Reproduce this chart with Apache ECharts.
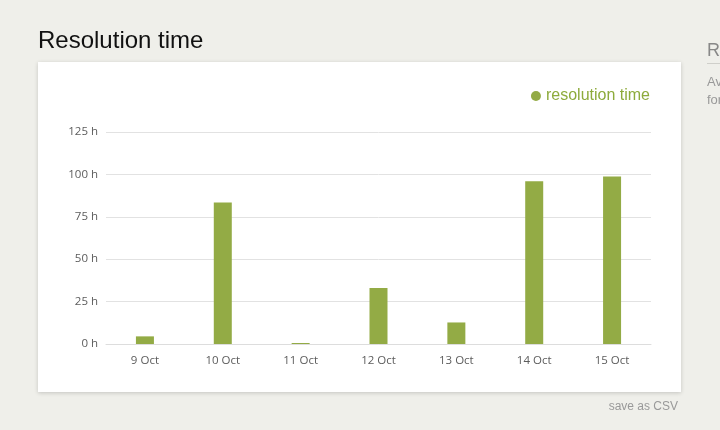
<!DOCTYPE html>
<html>
<head>
<meta charset="utf-8">
<script src="https://cdn.jsdelivr.net/npm/echarts@6/dist/echarts.min.js"></script>
<style>
html, body { margin: 0; padding: 0; background: #efefea; }
#chart { width: 720px; height: 430px; }
</style>
</head>
<body>
<div id="chart"></div>
<script>
var days = ['9 Oct', '10 Oct', '11 Oct', '12 Oct', '13 Oct', '14 Oct', '15 Oct'];
var hours = [4.5, 83.5, 0.6, 33, 12.7, 95.9, 98.8];
var seriesName = 'resolution time';

var green = '#93ab45';
var labelFont = '"Open Sans", sans-serif';

var myChart = echarts.init(document.getElementById('chart'));

var option = {
    backgroundColor: '#efefea',
    animation: false,
    graphic: [
        {
            // white panel behind the plot
            type: 'rect',
            z: -10,
            shape: { x: 38, y: 62, width: 643, height: 330 },
            style: {
                fill: '#ffffff',
                shadowBlur: 4,
                shadowColor: 'rgba(0,0,0,0.18)',
                shadowOffsetY: 1
            }
        },
        {
            type: 'text',
            x: 38, y: 41,
            style: {
                text: 'Resolution time',
                font: '24px "Liberation Sans", Arial, sans-serif',
                fill: '#111',
                verticalAlign: 'middle'
            }
        },
        {
            type: 'text',
            x: 707, y: 51,
            style: {
                text: 'Recent',
                font: '18px "Liberation Sans", Arial, sans-serif',
                fill: '#888',
                verticalAlign: 'middle'
            }
        },
        {
            type: 'line',
            shape: { x1: 707, y1: 63.5, x2: 720, y2: 63.5 },
            style: { stroke: '#cfcfca', lineWidth: 1 }
        },
        {
            type: 'text',
            x: 707, y: 82,
            style: {
                text: 'Average',
                font: '13px "Liberation Sans", Arial, sans-serif',
                fill: '#999',
                verticalAlign: 'middle'
            }
        },
        {
            type: 'text',
            x: 707, y: 100,
            style: {
                text: 'for',
                font: '13px "Liberation Sans", Arial, sans-serif',
                fill: '#999',
                verticalAlign: 'middle'
            }
        },
        {
            type: 'text',
            x: 678, y: 407,
            style: {
                text: 'save as CSV',
                font: '12px "Liberation Sans", Arial, sans-serif',
                fill: '#999',
                align: 'right',
                verticalAlign: 'middle'
            }
        }
    ],
    legend: {
        data: [seriesName],
        right: 65,
        top: 83,
        icon: 'circle',
        itemWidth: 10,
        itemHeight: 10,
        itemGap: 6,
        textStyle: {
            color: '#8dab3c',
            fontSize: 16,
            fontFamily: '"Liberation Sans", Arial, sans-serif'
        }
    },
    grid: {
        left: 106,
        right: 69,
        top: 132,
        bottom: 86
    },
    xAxis: {
        type: 'category',
        data: days,
        axisLine: { lineStyle: { color: '#dddddd' } },
        axisTick: {
            alignWithLabel: true,
            length: 5,
            lineStyle: { color: '#cccccc' }
        },
        axisLabel: {
            color: '#5c5c5c',
            fontSize: 11.5,
            fontFamily: labelFont,
            margin: 11
        }
    },
    yAxis: {
        type: 'value',
        min: 0,
        max: 125,
        interval: 25,
        axisLine: { show: false },
        axisTick: { show: false },
        splitLine: { lineStyle: { color: '#e2e2e2' } },
        axisLabel: {
            color: '#5c5c5c',
            fontSize: 11.5,
            fontFamily: labelFont,
            margin: 8,
            formatter: '{value} h'
        }
    },
    series: [{
        name: seriesName,
        type: 'bar',
        data: hours,
        barWidth: 18,
        itemStyle: { color: green }
    }]
};
myChart.setOption(option);
</script>
</body>
</html>
